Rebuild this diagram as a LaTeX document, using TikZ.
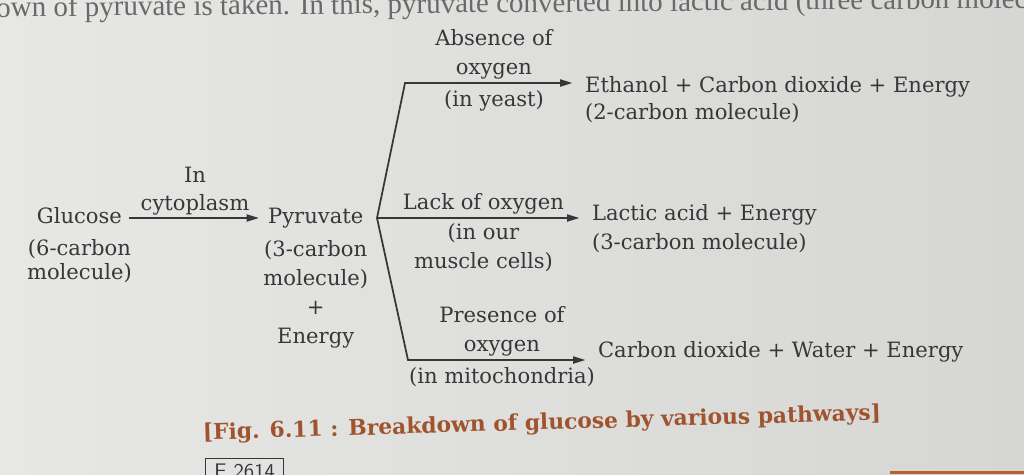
\documentclass[tikz,border=0pt]{standalone}
\usepackage{fontspec}
\setmainfont{DejaVu Serif}
\newfontfamily\pagefont{Liberation Serif}
\usetikzlibrary{positioning, arrows.meta}

\definecolor{paperL}{RGB}{231,231,229}
\definecolor{paperR}{RGB}{214,215,213}
\definecolor{ink}{RGB}{55,55,55}
\definecolor{capbrown}{RGB}{160,84,46}
\definecolor{edgeorange}{RGB}{190,95,40}

\begin{document}
\begin{tikzpicture}[x=0.02cm, y=-0.02cm,
    txt/.style={font=\fontsize{12}{15}\selectfont, text=ink, inner sep=1pt},
    one/.style={txt, text height=9pt, text depth=3pt},
    lbl/.style={txt, align=center, font=\fontsize{12}{16.5}\selectfont, inner sep=1.5pt},
    arr/.style={draw=ink, line width=1pt, -{Triangle[length=7pt, width=4pt]}},
    fork/.style={arr, shorten >=6pt}]
        % page
        \useasboundingbox (0,0) rectangle (1024,474);
        \shade [left color=paperL, right color=paperR] (0,0) rectangle (1024,474);
        \fill [edgeorange] (890,471) rectangle (1024,474);
        \node (prevline) [font=\pagefont\fontsize{16.5}{18}\selectfont, text=ink!75, anchor=base west, rotate=0.5, inner sep=0pt] at (-4,17) {own of pyruvate is taken. In this, pyruvate converted into lactic acid (three carbon molecule)};

        % glucose to pyruvate
        \node (glucose) [one, anchor=east] at (124,218) {Glucose};
        \node (glucosesub) [txt, align=center, font=\fontsize{12}{13.7}\selectfont, below=4pt of glucose] {(6-carbon\\molecule)};
        \node (pyruvate) [one, anchor=west] at (266,218) {Pyruvate};
        \node (pyruvatesub) [lbl, below=4pt of pyruvate] {(3-carbon\\molecule)\\+\\Energy};
        \draw [arr, shorten <=3pt, shorten >=4pt] (glucose) -- node [lbl, above, inner sep=1pt, font=\fontsize{12}{16}\selectfont] {In\\cytoplasm} (pyruvate);

        % products
        \node (ethanol) [txt, align=left, anchor=north west, font=\fontsize{12}{15.5}\selectfont] at (583,74) {Ethanol + Carbon dioxide + Energy\\(2-carbon molecule)};
        \node (lactic) [txt, align=left, anchor=north west, font=\fontsize{12}{16.5}\selectfont] at (590,202) {Lactic acid + Energy\\(3-carbon molecule)};
        \node (water) [one, anchor=west] at (596,352) {Carbon dioxide + Water + Energy};

        % three pathways
        \coordinate (split) at (377,218);
        \coordinate (uptop) at (405,83);
        \coordinate (downbot) at (408,360);
        \draw [fork] (split) -- (uptop) -- node [lbl, above] {Absence of\\oxygen} node [lbl, below=2pt] {(in yeast)} (uptop -| ethanol.west);
        \draw [fork] (split) -- node [lbl, above] {Lack of oxygen} node [lbl, below=1pt] {(in our\\muscle cells)} (split -| lactic.west);
        \draw [fork] (split) -- (downbot) -- node [lbl, above] {Presence of\\oxygen} node [lbl, below=2pt] {(in mitochondria)} (downbot -| water.west);

        % caption
        \node (caption) [font=\bfseries\fontsize{12.4}{14}\selectfont, text=capbrown, rotate=1.7] at (542,424) {[Fig. 6.11 : Breakdown of glucose by various pathways]};
        \node (pagecode) [draw=ink, line width=0.8pt, font=\sffamily\fontsize{12}{14}\selectfont, text=ink, anchor=north west, inner xsep=5pt, inner ysep=3pt] at (205,458) {E 2614};
    \end{tikzpicture}
\end{document}
